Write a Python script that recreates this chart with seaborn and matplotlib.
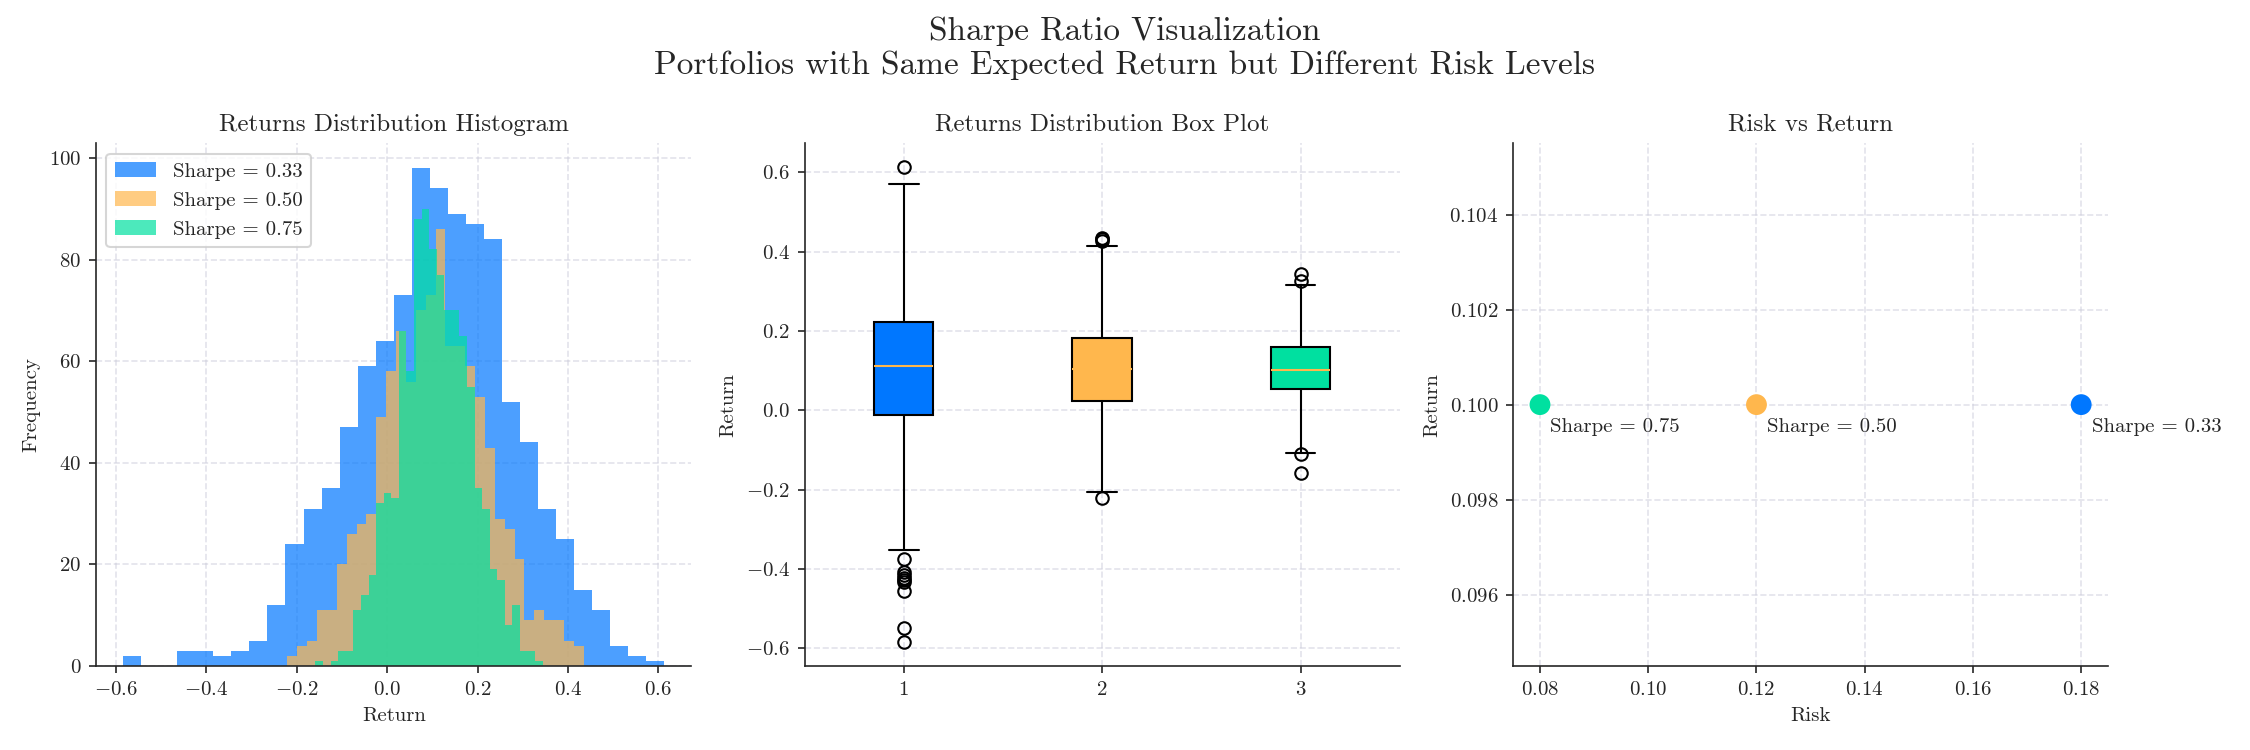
import numpy as np
import matplotlib
matplotlib.use("Agg")
import matplotlib.pyplot as plt
import seaborn as sns

# portfolios
sharpe_labels = ["Sharpe = 0.33", "Sharpe = 0.50", "Sharpe = 0.75"]
colors = ["#0077FF", "#FFB74D", "#00E0A0"]

# histogram: 30 bins per portfolio between its min and max return
hist_range_033 = (-0.5845, 0.6135)
hist_counts_033 = [2, 0, 0, 3, 3, 2, 3, 5, 12, 24, 31, 35, 47, 59, 64,
                   73, 98, 94, 89, 87, 84, 52, 44, 31, 25, 15, 11, 4, 2, 1]
hist_range_050 = (-0.2207, 0.4351)
hist_counts_050 = [2, 4, 5, 11, 11, 20, 26, 28, 30, 49, 58, 66, 56, 70, 73,
                   86, 63, 63, 59, 53, 43, 29, 27, 21, 9, 11, 9, 9, 5, 4]
hist_range_075 = (-0.1587, 0.3444)
hist_counts_075 = [1, 0, 1, 3, 3, 11, 14, 18, 32, 34, 33, 66, 58, 88, 90,
                   82, 77, 70, 70, 65, 55, 35, 31, 19, 17, 8, 12, 3, 3, 1]

# box plot summary
box_q1 = [-0.011, 0.023, 0.053]
box_med = [0.111, 0.104, 0.101]
box_q3 = [0.222, 0.182, 0.159]
box_whislo = [-0.352, -0.207, -0.107]
box_whishi = [0.570, 0.414, 0.316]
box_fliers = [
    [0.613, -0.375, -0.409, -0.415, -0.422, -0.428, -0.432, -0.455, -0.548, -0.585],
    [0.426, 0.431, 0.435, -0.221],
    [0.325, 0.344, -0.111, -0.159],
]

# risk vs return
risk = [0.18, 0.12, 0.08]
exp_return = [0.10, 0.10, 0.10]

sns.set_style("ticks")
plt.rcParams["font.family"] = "serif"
plt.rcParams["font.serif"] = ["cmr10"]
plt.rcParams["mathtext.fontset"] = "cm"
plt.rcParams["axes.formatter.use_mathtext"] = True
plt.rcParams["axes.edgecolor"] = "#262626"

fig, axes = plt.subplots(1, 3, figsize=(15, 5), dpi=150)
fig.subplots_adjust(left=0.0427, right=0.937, top=0.809, bottom=0.112, wspace=0.19)

grid_kw = dict(ls="--", color="#c8c8d8", alpha=0.5, lw=0.8)

# histogram
ax = axes[0]
ranges = [hist_range_033, hist_range_050, hist_range_075]
counts = [hist_counts_033, hist_counts_050, hist_counts_075]
for (lo, hi), cnt, c, lab in zip(ranges, counts, colors, sharpe_labels):
    edges = np.linspace(lo, hi, len(cnt) + 1)
    centers = (edges[:-1] + edges[1:]) / 2
    sns.histplot(x=centers, weights=cnt, bins=edges.tolist(), color=c, alpha=0.7,
                 linewidth=0, label=lab, ax=ax)
ax.set_title("Returns Distribution Histogram", fontsize=12)
ax.set_xlabel("Return")
ax.set_ylabel("Frequency")
ax.legend(loc="upper left")
ax.grid(True, **grid_kw)

# box plot
ax = axes[1]
stats = []
for i in range(3):
    stats.append(dict(q1=box_q1[i], med=box_med[i], q3=box_q3[i],
                      whislo=box_whislo[i], whishi=box_whishi[i],
                      fliers=box_fliers[i]))
bp = ax.bxp(stats, patch_artist=True, showfliers=True,
            medianprops=dict(color=colors[1]))
for patch, c in zip(bp["boxes"], colors):
    patch.set_facecolor(c)
ax.set_title("Returns Distribution Box Plot", fontsize=12)
ax.set_ylabel("Return")
ax.grid(True, **grid_kw)

# risk vs return
ax = axes[2]
sns.scatterplot(x=risk, y=exp_return, hue=sharpe_labels, palette=colors,
                s=100, linewidth=0, legend=False, ax=ax)
for x, y, lab in zip(risk, exp_return, sharpe_labels):
    ax.annotate(lab, (x, y), xytext=(5, -13), textcoords="offset points")
ax.set_title("Risk vs Return", fontsize=12)
ax.set_xlabel("Risk")
ax.set_ylabel("Return")
ax.grid(True, **grid_kw)

for ax in axes:
    sns.despine(ax=ax)

fig.suptitle("Sharpe Ratio Visualization\nPortfolios with Same Expected Return but Different Risk Levels",
             fontsize=16, y=0.978)

fig.savefig("out.png", dpi=150)
